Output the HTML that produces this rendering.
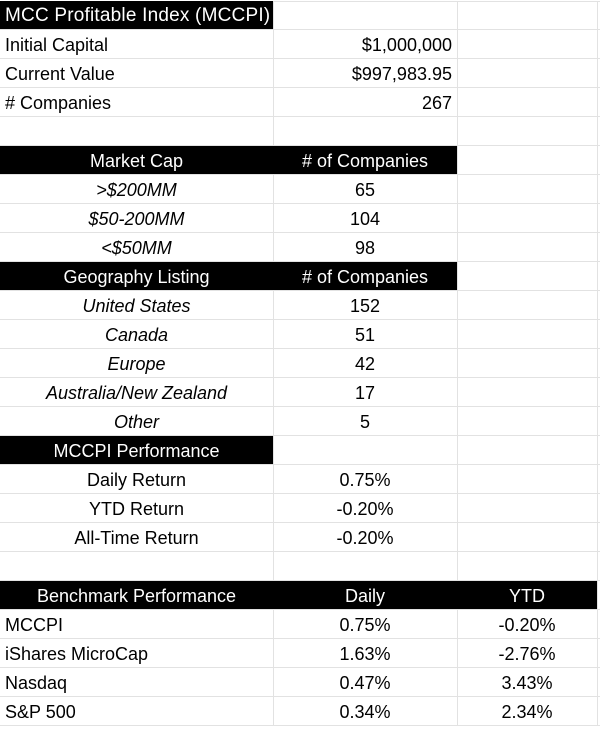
<!DOCTYPE html><html><head><style>
body{margin:0;width:600px;height:729px;background:#fff;position:relative;overflow:hidden;font-family:"Liberation Sans",Arial,sans-serif;font-size:18px;color:#000}
.r{position:absolute;left:0;width:600px;height:29px;border-bottom:1px solid #e2e2e2;box-sizing:border-box}
.c{position:absolute;top:0;height:28px;line-height:30px;box-sizing:border-box;white-space:nowrap}
.a{left:0;width:273px}.b{left:273px;width:184px}.cc{left:457px;width:140px}
.v{position:absolute;top:0;width:1px;height:100%;background:#e2e2e2}
.k{background:#000;color:#fff}
.l{padding-left:5px}.rt{text-align:right;padding-right:5px}.ct{text-align:center}.i{font-style:italic}
.t{font-size:19px;letter-spacing:0.2px}
</style></head><body>
<div class="r" style="top:1px;border-top:1px solid #e2e2e2"></div>
<div id="rows"></div>
<script>
const rows=[
[["k l t","MCC Profitable Index (MCCPI)"],["",""],["",""]],
[["l","Initial Capital"],["rt","$1,000,000"],["",""]],
[["l","Current Value"],["rt","$997,983.95"],["",""]],
[["l","# Companies"],["rt","267"],["",""]],
[["",""],["",""],["",""]],
[["k ct","Market Cap"],["k ct","# of Companies"],["",""]],
[["ct i",">$200MM"],["ct","65"],["",""]],
[["ct i","$50-200MM"],["ct","104"],["",""]],
[["ct i","<$50MM"],["ct","98"],["",""]],
[["k ct","Geography Listing"],["k ct","# of Companies"],["",""]],
[["ct i","United States"],["ct","152"],["",""]],
[["ct i","Canada"],["ct","51"],["",""]],
[["ct i","Europe"],["ct","42"],["",""]],
[["ct i","Australia/New Zealand"],["ct","17"],["",""]],
[["ct i","Other"],["ct","5"],["",""]],
[["k ct","MCCPI Performance"],["",""],["",""]],
[["ct","Daily Return"],["ct","0.75%"],["",""]],
[["ct","YTD Return"],["ct","-0.20%"],["",""]],
[["ct","All-Time Return"],["ct","-0.20%"],["",""]],
[["",""],["",""],["",""]],
[["k ct","Benchmark Performance"],["k ct","Daily"],["k ct","YTD"]],
[["l","MCCPI"],["ct","0.75%"],["ct","-0.20%"]],
[["l","iShares MicroCap"],["ct","1.63%"],["ct","-2.76%"]],
[["l","Nasdaq"],["ct","0.47%"],["ct","3.43%"]],
[["l","S&P 500"],["ct","0.34%"],["ct","2.34%"]]];
const esc=s=>s.replace(/&/g,'&amp;').replace(/</g,'&lt;').replace(/>/g,'&gt;');
let h='';const cls=['a','b','cc'];
rows.forEach((r,i)=>{h+=`<div class="r" style="top:${1+i*29}px"><div class="v" style="left:273px"></div><div class="v" style="left:457px"></div><div class="v" style="left:597px"></div>`;
r.forEach((c,j)=>{h+=`<div class="c ${cls[j]} ${c[0]}">${esc(c[1])}</div>`});h+='</div>';});
document.getElementById('rows').innerHTML=h;
</script>
</body></html>
